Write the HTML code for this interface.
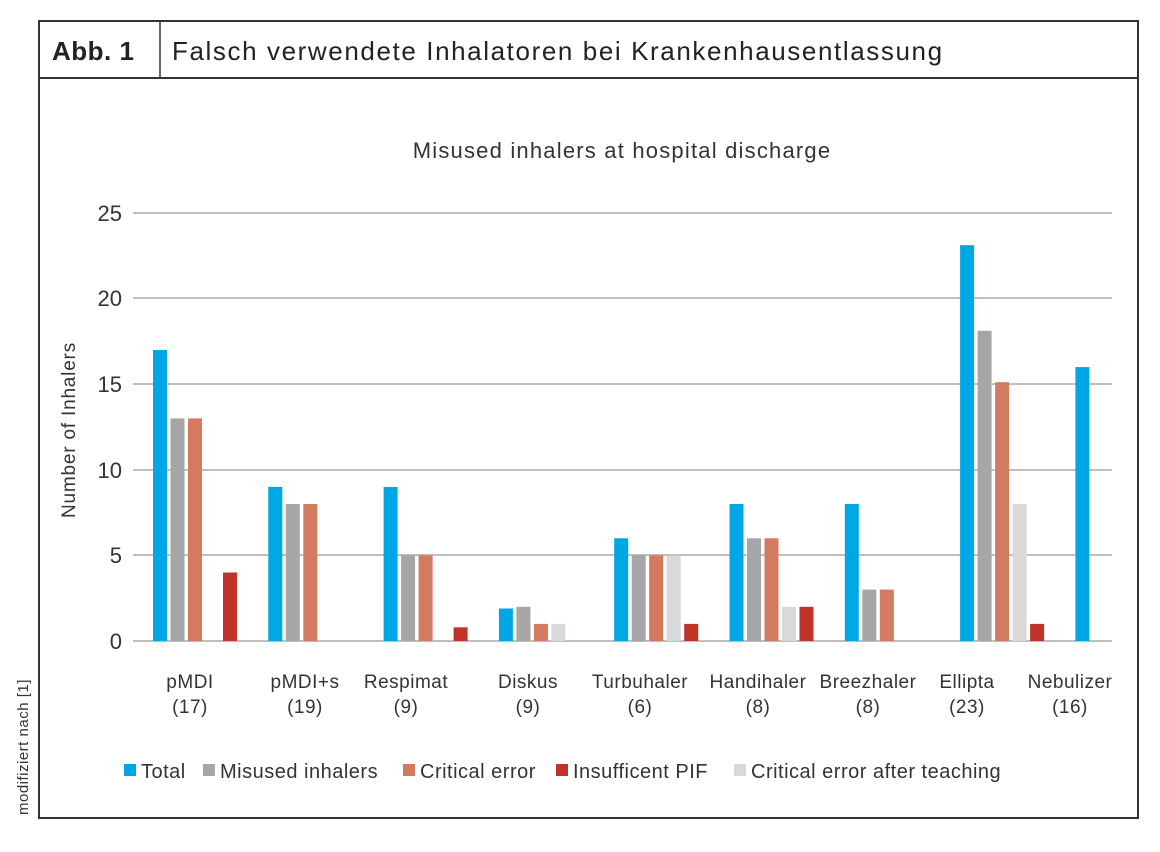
<!DOCTYPE html>
<html><head><meta charset="utf-8"><style>
body{margin:0;background:#fff;width:1160px;height:847px;overflow:hidden;font-family:"Liberation Sans",sans-serif}
</style></head><body>
<svg width="1160" height="847" xmlns="http://www.w3.org/2000/svg" font-family="Liberation Sans, sans-serif">
<rect x="39" y="21" width="1099" height="797" fill="none" stroke="#333" stroke-width="2"/>
<line x1="39" y1="78" x2="1138" y2="78" stroke="#333" stroke-width="2"/>
<line x1="160" y1="21" x2="160" y2="78" stroke="#333" stroke-width="1.5"/>
<text x="52" y="60" font-size="26" font-weight="bold" fill="#222" letter-spacing="0.5">Abb. 1</text>
<text x="172" y="60" font-size="26" fill="#222" letter-spacing="1.6">Falsch verwendete Inhalatoren bei Krankenhausentlassung</text>
<text x="622" y="158" font-size="22" fill="#333" text-anchor="middle" letter-spacing="1.2">Misused inhalers at hospital discharge</text>
<g stroke="#aaa" stroke-width="1.5">
<line x1="133" y1="213" x2="1112" y2="213"/><line x1="133" y1="298" x2="1112" y2="298"/>
<line x1="133" y1="384" x2="1112" y2="384"/><line x1="133" y1="470" x2="1112" y2="470"/>
<line x1="133" y1="555" x2="1112" y2="555"/><line x1="133" y1="641" x2="1112" y2="641"/>
</g>
<g font-size="22" fill="#333" text-anchor="end">
<text x="122" y="221">25</text><text x="122" y="306">20</text><text x="122" y="392">15</text>
<text x="122" y="478">10</text><text x="122" y="563">5</text><text x="122" y="649">0</text>
</g>
<text transform="translate(75,430) rotate(-90)" font-size="19" fill="#333" text-anchor="middle" letter-spacing="0.8">Number of Inhalers</text>
<g>
<rect x="153" y="350" width="14" height="291" fill="#00a7e5"/>
<rect x="170.5" y="418.4" width="14" height="222.6" fill="#a6a6a6"/>
<rect x="188" y="418.4" width="14" height="222.6" fill="#d47a61"/>
<rect x="223" y="572.5" width="14" height="68.5" fill="#c03329"/>

<rect x="268.3" y="486.9" width="14" height="154.1" fill="#00a7e5"/>
<rect x="285.8" y="504" width="14" height="137" fill="#a6a6a6"/>
<rect x="303.3" y="504" width="14" height="137" fill="#d47a61"/>

<rect x="383.6" y="486.9" width="14" height="154.1" fill="#00a7e5"/>
<rect x="401.1" y="555.4" width="14" height="85.6" fill="#a6a6a6"/>
<rect x="418.6" y="555.4" width="14" height="85.6" fill="#d47a61"/>
<rect x="453.6" y="627.3" width="14" height="13.7" fill="#c03329"/>

<rect x="498.9" y="608.5" width="14" height="32.5" fill="#00a7e5"/>
<rect x="516.4" y="606.8" width="14" height="34.2" fill="#a6a6a6"/>
<rect x="533.9" y="623.9" width="14" height="17.1" fill="#d47a61"/>
<rect x="551.4" y="623.9" width="14" height="17.1" fill="#d9d9d9"/>

<rect x="614.2" y="538.3" width="14" height="102.7" fill="#00a7e5"/>
<rect x="631.7" y="555.4" width="14" height="85.6" fill="#a6a6a6"/>
<rect x="649.2" y="555.4" width="14" height="85.6" fill="#d47a61"/>
<rect x="666.7" y="555.4" width="14" height="85.6" fill="#d9d9d9"/>
<rect x="684.2" y="623.9" width="14" height="17.1" fill="#c03329"/>

<rect x="729.5" y="504" width="14" height="137" fill="#00a7e5"/>
<rect x="747" y="538.3" width="14" height="102.7" fill="#a6a6a6"/>
<rect x="764.5" y="538.3" width="14" height="102.7" fill="#d47a61"/>
<rect x="782" y="606.8" width="14" height="34.2" fill="#d9d9d9"/>
<rect x="799.5" y="606.8" width="14" height="34.2" fill="#c03329"/>

<rect x="844.8" y="504" width="14" height="137" fill="#00a7e5"/>
<rect x="862.3" y="589.6" width="14" height="51.4" fill="#a6a6a6"/>
<rect x="879.8" y="589.6" width="14" height="51.4" fill="#d47a61"/>

<rect x="960.1" y="245.2" width="14" height="395.8" fill="#00a7e5"/>
<rect x="977.6" y="330.8" width="14" height="310.2" fill="#a6a6a6"/>
<rect x="995.1" y="382.2" width="14" height="258.8" fill="#d47a61"/>
<rect x="1012.6" y="504" width="14" height="137" fill="#d9d9d9"/>
<rect x="1030.1" y="623.9" width="14" height="17.1" fill="#c03329"/>

<rect x="1075.4" y="367.1" width="14" height="273.9" fill="#00a7e5"/>
</g>
<g font-size="19" fill="#333" text-anchor="middle" letter-spacing="0.5">
<text x="190" y="688">pMDI</text><text x="190" y="713">(17)</text>
<text x="305" y="688">pMDI+s</text><text x="305" y="713">(19)</text>
<text x="406" y="688">Respimat</text><text x="406" y="713">(9)</text>
<text x="528" y="688">Diskus</text><text x="528" y="713">(9)</text>
<text x="640" y="688">Turbuhaler</text><text x="640" y="713">(6)</text>
<text x="758" y="688">Handihaler</text><text x="758" y="713">(8)</text>
<text x="868" y="688">Breezhaler</text><text x="868" y="713">(8)</text>
<text x="967" y="688">Ellipta</text><text x="967" y="713">(23)</text>
<text x="1070" y="688">Nebulizer</text><text x="1070" y="713">(16)</text>
</g>
<g font-size="20" fill="#333" letter-spacing="0.5">
<rect x="124" y="764" width="12" height="12" fill="#00a7e5"/><text x="141" y="778">Total</text>
<rect x="203" y="764" width="12" height="12" fill="#a6a6a6"/><text x="220" y="778">Misused inhalers</text>
<rect x="403" y="764" width="12" height="12" fill="#d47a61"/><text x="420" y="778">Critical error</text>
<rect x="556" y="764" width="12" height="12" fill="#c03329"/><text x="573" y="778">Insufficent PIF</text>
<rect x="734" y="764" width="12" height="12" fill="#d9d9d9"/><text x="751" y="778">Critical error after teaching</text>
</g>
<text transform="translate(28,815) rotate(-90)" font-size="15" fill="#333" letter-spacing="0.5">modifiziert nach [1]</text>
</svg>
</body></html>
